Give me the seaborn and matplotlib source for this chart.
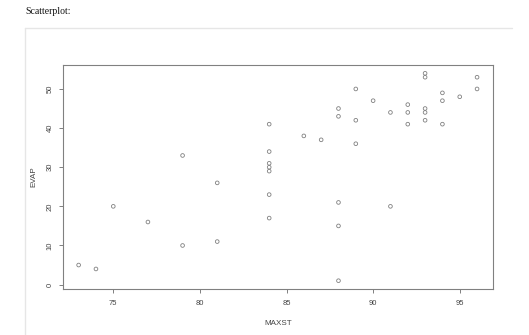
import matplotlib
matplotlib.use("Agg")
import matplotlib.pyplot as plt
import seaborn as sns
import pandas as pd
from matplotlib.lines import Line2D

maxst = [73, 74, 75, 77, 79, 79, 81, 81, 84, 84, 84, 84, 84, 84, 84,
         86, 87, 88, 88, 88, 88, 88, 89, 89, 89, 90, 91, 91, 92, 92, 92,
         93, 93, 93, 93, 93, 94, 94, 94, 95, 96, 96]
evap = [5, 4, 20, 16, 33, 10, 26, 11, 41, 34, 31, 30, 29, 23, 17,
        38, 37, 45, 43, 21, 15, 1, 50, 42, 36, 47, 44, 20, 46, 44, 41,
        54, 53, 45, 44, 42, 49, 47, 41, 48, 53, 50]
x_ticks = [75, 80, 85, 90, 95]
y_ticks = [0, 10, 20, 30, 40, 50]
title_text = "Scatterplot:"
x_label = "MAXST"
y_label = "EVAP"

df = pd.DataFrame({"MAXST": maxst, "EVAP": evap})

sns.set_style("white")
plt.rcParams['font.family'] = ['Liberation Sans', 'DejaVu Sans']

fig = plt.figure(figsize=(5.29, 3.35), dpi=100)
ax = fig.add_axes([62.7 / 529, 1 - 289 / 335, (493 - 62.7) / 529, (289 - 65) / 335])

sns.scatterplot(data=df, x="MAXST", y="EVAP", ax=ax, marker="o", s=7,
                facecolors="none", edgecolor="#808080", linewidth=0.6)

xr = max(maxst) - min(maxst)
yr = max(evap) - min(evap)
ax.set_xlim(min(maxst) - 0.04 * xr, max(maxst) + 0.04 * xr)
ax.set_ylim(min(evap) - 0.04 * yr, max(evap) + 0.04 * yr)
ax.set_xticks(x_ticks)
ax.set_yticks(y_ticks)
ax.set_yticklabels([str(v) for v in y_ticks], rotation=90, va="center")
ax.tick_params(axis="x", pad=5)
ax.tick_params(axis="y", pad=3.5)
ax.tick_params(axis="both", direction="out", length=3, width=0.7, color="#808080",
               labelsize=5.5, labelcolor="#444444", left=True, bottom=True)
for sp in ax.spines.values():
    sp.set_color("#808080")
    sp.set_linewidth(0.8)
ax.set_xlabel(x_label, fontsize=5.8, color="#444444", labelpad=9)
ax.set_ylabel(y_label, fontsize=5.8, color="#444444", labelpad=7)

# outer panel border (top and left only)
fig.add_artist(Line2D([25 / 529, 512 / 529], [1 - 28.3 / 335, 1 - 28.3 / 335],
                      transform=fig.transFigure, color="#e6e6e6", linewidth=1))
fig.add_artist(Line2D([25 / 529, 25 / 529], [1 - 28.3 / 335, 0],
                      transform=fig.transFigure, color="#e6e6e6", linewidth=1))

fig.text(25 / 529, 1 - 12 / 335, title_text, family=["Liberation Serif", "DejaVu Serif"],
         fontsize=7, color="#111111", va="center", ha="left")

fig.savefig("out.png", dpi=100)
